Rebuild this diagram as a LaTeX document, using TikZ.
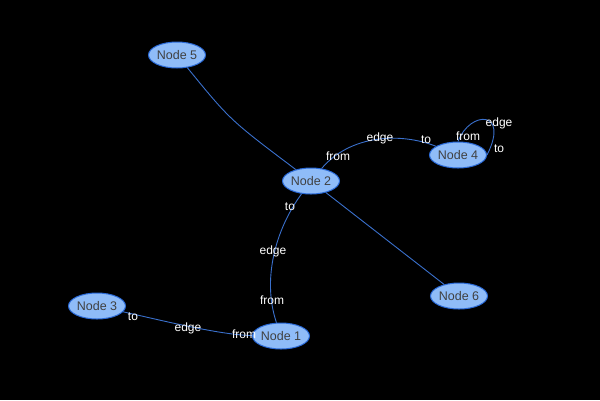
\documentclass[tikz,border=0pt]{standalone}
\usepackage{fontspec}
\setmainfont{Liberation Sans}
\usetikzlibrary{shapes.geometric}
\definecolor{nfill}{HTML}{8FBCF8}
\definecolor{nline}{HTML}{2A6AD8}
\definecolor{eline}{HTML}{3A70CC}
\begin{document}
\begin{tikzpicture}[x=1pt,y=-1pt,
  nd/.style={ellipse,draw=nline,fill=nfill,line width=1pt,minimum width=54pt,minimum height=26pt,inner sep=0pt,font=\fontsize{12.5}{14}\selectfont,text=black!75},
  lb/.style={font=\fontsize{12}{14}\selectfont,text=white,inner sep=0pt},
  ed/.style={draw=eline,line width=0.9pt}]
\fill[black] (0,0) rectangle (600,400);
\useasboundingbox (0,0) rectangle (600,400);
\node[nd] (n5) at (177,55) {Node 5};
\node[nd] (n2) at (311,181) {Node 2};
\node[nd] (n4) at (458,155) {Node 4};
\node[nd] (n6) at (459,296) {Node 6};
\node[nd] (n3) at (97,306) {Node 3};
\node[nd] (n1) at (281,336) {Node 1};
\begin{scope}[on background layer/.style={}]
\end{scope}
\path[ed] (n5) .. controls (230,120) .. (n2);
\path[ed] (n2) -- (n6);
\path[ed] (n2) .. controls (350,135) and (400,132) .. (n4);
\path[ed] (n2) .. controls (275,230) and (262,280) .. (n1);
\path[ed] (n3) .. controls (160,320) and (220,335) .. (n1);
\path[ed] (n4.north) .. controls (470,110) and (510,110) .. (n4.east);
\node[lb] at (338,156) {from};
\node[lb] at (380,138) {edge};
\node[lb] at (426,140) {to};
\node[lb] at (290,207) {to};
\node[lb] at (273,251) {edge};
\node[lb] at (272,300) {from};
\node[lb] at (133,317) {to};
\node[lb] at (188,328) {edge};
\node[lb] at (244,334) {from};
\node[lb] at (468,136) {from};
\node[lb] at (499,123) {edge};
\node[lb] at (499,149) {to};
\end{tikzpicture}
\end{document}
